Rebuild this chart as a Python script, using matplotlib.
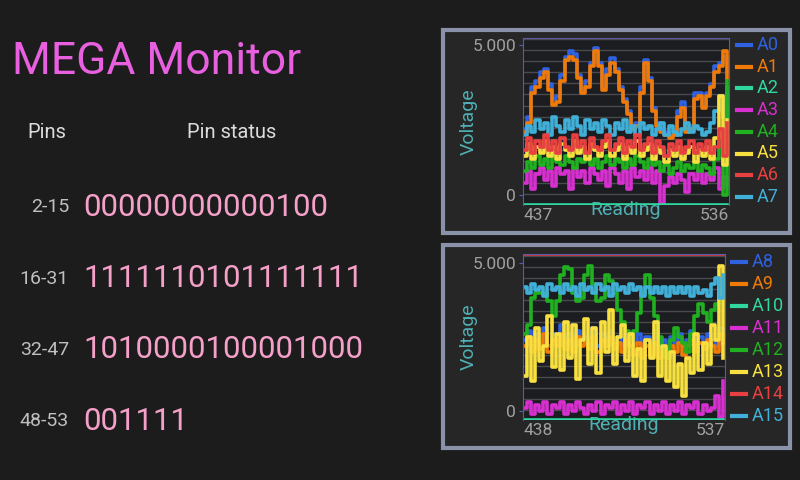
import numpy as np
import matplotlib
matplotlib.use("Agg")
import matplotlib.pyplot as plt
from matplotlib.patches import Rectangle

plt.rcParams['font.family'] = ['Roboto', 'DejaVu Sans']

title = "MEGA Monitor"
pin_ranges = ["2-15", "16-31", "32-47", "48-53"]
pin_status = ["00000000000100", "1111110101111111", "1010000100001000", "001111"]

top_names = ["A0", "A1", "A2", "A3", "A4", "A5", "A6", "A7"]
bot_names = ["A8", "A9", "A10", "A11", "A12", "A13", "A14", "A15"]
colors = ["#2f62e0", "#f07a08", "#30d8a0", "#d830d0", "#20b020", "#f8e040", "#e84040", "#40b0d8"]

top_x = list(range(437, 537, 2))
bot_x = list(range(438, 538, 2))

A0 = [2.2, 2.6, 3.6, 3.8, 4.1, 4.2, 3.7, 3.2, 3.3, 4.0, 4.6, 4.8, 4.7, 4.0, 3.5, 3.8, 4.4, 4.9, 4.4, 3.6,
      4.2, 4.55, 4.2, 3.6, 3.2, 2.8, 2.3, 2.4, 3.6, 4.5, 3.9, 2.9, 2.4, 2.2, 2.1, 2.0, 2.1, 2.8, 3.1, 2.2,
      2.3, 3.4, 3.4, 3.0, 3.4, 3.7, 4.3, 4.4, 4.6, 4.1]
A1 = [2.1, 2.4, 3.4, 3.6, 3.9, 4.1, 3.5, 3.0, 3.1, 3.8, 4.5, 4.6, 4.5, 3.9, 3.4, 3.6, 4.3, 4.8, 4.3, 3.5,
      4.0, 4.4, 4.1, 3.5, 3.1, 2.7, 2.2, 2.3, 3.4, 4.4, 3.8, 2.8, 2.3, 2.1, 2.0, 1.9, 2.0, 2.6, 2.9, 2.1,
      2.2, 3.2, 3.3, 2.9, 3.3, 3.6, 4.1, 4.3, 4.8, 3.9]
A2 = [-0.33] * 50
A3 = [0.4, 0.8, 0.2, 0.7, 0.9, 0.5, 0.8, 0.3, 0.9, 0.7, 0.8, 0.2, 0.9, 0.6, 0.8, 0.4, 0.9, 0.7, 0.5, 0.8,
      0.3, 0.9, 0.7, 0.4, 0.8, 0.2, 0.9, 0.6, 0.8, 0.5, 0.9, 0.4, 0.8, -0.3, 0.3, 0.6, 0.4, 0.7, 0.5, 0.1,
      0.7, 0.5, 0.8, 0.4, 0.7, 0.5, 0.9, 0.2, 0.6, 0.3]
A4 = [0.8, 1.1, 0.9, 1.3, 1.0, 1.2, 0.9, 1.3, 1.1, 1.0, 1.3, 1.1, 0.9, 1.2, 1.1, 1.3, 1.0, 1.2, 0.9, 1.1,
      1.3, 1.0, 1.2, 1.1, 0.9, 1.2, 1.0, 1.3, 1.1, 0.9, 1.2, 1.0, 1.1, 0.8, 1.0, 0.7, 0.9, 1.1, 0.8, 1.0,
      0.9, 1.1, 0.8, 1.0, 0.9, 0.7, 1.2, 2.0, 0.0, 3.8]
A5 = [1.3, 1.7, 1.2, 1.6, 1.4, 1.8, 1.3, 1.6, 1.2, 1.7, 1.5, 1.3, 1.8, 1.4, 1.6, 1.2, 1.7, 1.5, 1.3, 1.6,
      1.8, 1.3, 1.5, 1.7, 1.2, 1.6, 1.4, 1.8, 1.3, 1.5, 1.7, 1.2, 1.6, 1.4, 1.1, 1.5, 1.3, 1.6, 1.2, 1.4,
      1.6, 1.1, 1.5, 1.3, 1.6, 1.2, 1.9, 3.3, 1.0, 2.5]
A6 = [1.5, 1.9, 1.4, 1.8, 1.6, 2.0, 1.5, 1.8, 1.4, 1.9, 1.6, 1.5, 2.0, 1.6, 1.8, 1.4, 1.9, 1.6, 1.5, 1.8,
      2.0, 1.5, 1.7, 1.9, 1.4, 1.8, 1.6, 2.0, 1.5, 1.7, 1.9, 1.4, 1.8, 1.6, 1.3, 1.7, 1.5, 1.8, 1.4, 1.6,
      1.8, 1.4, 1.7, 1.5, 1.8, 1.4, 1.6, 2.2, 1.3, 2.4]
A7 = [2.0, 2.3, 2.1, 2.5, 2.2, 2.4, 2.0, 2.6, 2.3, 2.1, 2.5, 2.2, 2.6, 2.3, 2.0, 2.5, 2.2, 2.4, 2.1, 2.5,
      2.3, 2.0, 2.4, 2.2, 2.5, 2.1, 2.3, 2.0, 2.4, 2.2, 2.3, 2.0, 2.2, 2.4, 2.0, 2.3, 2.1, 2.0, 2.2, 2.4,
      2.1, 2.3, 2.2, 2.0, 2.1, 2.4, 2.8, 3.3, 2.6, 3.6]

A8 = [2.4, 2.7, 2.2, 2.6, 2.3, 2.8, 2.2, 2.6, 2.4, 2.9, 2.3, 2.6, 2.2, 2.7, 2.4, 2.5, 2.3, 2.8, 2.2, 2.6,
      2.4, 2.7, 2.3, 2.5, 2.2, 2.6, 2.4, 2.3, 2.6, 2.2, 2.5, 2.3, 2.7, 2.2, 2.4, 2.1, 2.5, 2.3, 2.6, 2.2,
      2.4, 2.7, 2.2, 2.5, 2.3, 2.6, 2.4, 2.2, 2.8, 2.5]
A9 = [2.2, 2.5, 2.0, 2.4, 2.1, 2.6, 2.0, 2.4, 2.2, 2.6, 2.1, 2.4, 2.0, 2.5, 2.2, 2.3, 2.1, 2.5, 2.0, 2.4,
      2.2, 2.5, 2.1, 2.3, 2.0, 2.4, 2.2, 1.9, 2.3, 1.8, 2.2, 1.9, 2.3, 1.8, 2.1, 1.8, 2.2, 2.0, 2.3, 1.9,
      2.2, 2.4, 2.0, 2.3, 2.1, 2.4, 2.2, 2.0, 2.6, 2.3]
A10 = [-0.3] * 50
A11 = [0.1, 0.3, -0.1, 0.2, 0.0, 0.3, -0.1, 0.2, 0.1, 0.3, -0.1, 0.2, 0.0, 0.3, 0.1, -0.1, 0.2, 0.0, 0.3, -0.1,
       0.2, 0.1, 0.3, -0.1, 0.2, 0.0, 0.3, -0.1, 0.2, 0.1, 0.3, -0.1, 0.2, 0.0, 0.3, -0.1, 0.2, 0.0, 0.3, -0.1,
       0.2, 0.1, 0.3, -0.1, 0.2, 0.0, 0.1, 0.5, -0.2, 1.0]
A12 = [2.6, 2.9, 3.8, 4.0, 4.0, 4.0, 3.7, 3.2, 3.7, 4.6, 4.85, 4.8, 4.0, 3.7, 3.8, 4.6, 4.9, 4.3, 3.7, 3.8,
       4.6, 4.4, 4.0, 3.4, 3.0, 2.7, 2.45, 2.7, 3.3, 4.0, 4.6, 3.8, 3.2, 2.5, 2.1, 1.8, 2.4, 2.8, 2.5, 2.3,
       2.0, 2.6, 3.2, 3.6, 3.3, 3.0, 3.4, 3.6, 4.0, 4.2]
A13 = [1.2, 2.5, 1.0, 2.8, 1.7, 2.2, 3.2, 1.5, 2.6, 1.4, 3.0, 1.8, 2.9, 1.1, 2.4, 3.1, 1.6, 2.8, 1.3, 3.0,
       2.0, 3.4, 1.6, 2.5, 2.9, 1.7, 2.6, 1.2, 2.1, 1.0, 2.4, 1.8, 3.0, 1.2, 2.2, 1.0, 2.0, 0.8, 1.6, 0.5,
       1.8, 1.3, 2.6, 1.4, 2.3, 1.6, 2.9, 2.4, 4.9, 1.8]
A14 = [5.3] * 50
A15 = [4.2, 4.0, 4.3, 4.1, 4.2, 3.9, 4.3, 4.1, 4.2, 4.0, 4.3, 4.1, 4.2, 3.9, 4.3, 4.1, 4.2, 4.0, 4.3, 4.1,
       4.2, 3.9, 4.3, 4.1, 4.2, 4.0, 4.3, 4.1, 4.2, 3.9, 4.2, 4.0, 4.2, 4.0, 4.2, 3.9, 4.2, 4.0, 4.2, 4.0,
       4.2, 3.9, 4.2, 4.0, 4.1, 3.9, 4.3, 4.5, 3.8, 4.6]

top_series = [A0, A1, A2, A3, A4, A5, A6, A7]
bot_series = [A8, A9, A10, A11, A12, A13, A14, A15]
top_draw_order = [0, 1, 7, 3, 4, 5, 6, 2]
bot_draw_order = [0, 1, 4, 5, 7, 3, 2, 6]

W, H = 800, 480
fig = plt.figure(figsize=(8, 4.8), dpi=100, facecolor="#1c1c1c")

def px(x, y):
    return x / W, 1 - y / H

# Left side text
fig.text(*px(12, 62), title, color="#e860e0", fontsize=32, va="center", ha="left")
fig.text(*px(27, 133), "Pins", color="#dcdcdc", fontsize=14.5, va="center")
fig.text(*px(187, 133), "Pin status", color="#dcdcdc", fontsize=14.5, va="center")
for i, (r, s) in enumerate(zip(pin_ranges, pin_status)):
    y = 207 + i * 71.5
    fig.text(*px(69, y), r, color="#c0c0c0", fontsize=14, va="center", ha="right")
    fig.text(*px(83, y), s, color="#f4a0c8", fontsize=22.5, va="center", ha="left")

def panel(ytop, ax_rect, xs, series, names, order, xlab, ylim, leg_y0, leg_dy, leg_x):
    fig.patches.append(Rectangle(px(443, ytop + 203), 347 / W, 203 / H, transform=fig.transFigure,
                                 facecolor="#262626", edgecolor="#8a92aa", linewidth=3, zorder=0))
    ax = fig.add_axes(ax_rect)
    ax.set_zorder(3)
    ax.set_facecolor("#1b1d21")
    ax.set_ylim(*ylim)
    ax.set_xlim(xs[0], xs[-1] + 1)
    for g in np.arange(ylim[0] + 0.35, ylim[1], 0.37):
        ax.axhline(g, color="#4a4a4e", lw=1, zorder=0)
    for k in order:
        ax.plot(xs, series[k], color=colors[k], lw=2.6, drawstyle="steps-post", zorder=2)
    for sp in ["left", "top", "right"]:
        ax.spines[sp].set_color("#5a5aa8")
    ax.spines["bottom"].set_visible(False)
    ax.set_yticks([0, 5])
    ax.set_yticklabels(["0", "5.000"], color="#a0a0a0", fontsize=12.5)
    ax.set_xticks([xs[0], xs[-1] + 1])
    ax.set_xticklabels(xlab, color="#a0a0a0", fontsize=12.5)
    ax.get_xticklabels()[0].set_ha("left")
    ax.get_xticklabels()[1].set_ha("right")
    ax.tick_params(length=0, pad=2)
    ax.tick_params(axis="y", length=3, color="#5a5aa8")
    ax.set_xlabel("Reading", color="#4fb0b4", fontsize=14, labelpad=-16)
    ax.set_ylabel("Voltage", color="#4fb0b4", fontsize=14, labelpad=-4)
    for i, n in enumerate(names):
        y = leg_y0 + i * leg_dy
        fig.lines.append(plt.Line2D([leg_x / W, (leg_x + 14) / W], [1 - y / H] * 2,
                                    transform=fig.transFigure, color=colors[i], lw=3, zorder=4))
        fig.text((leg_x + 20) / W, 1 - y / H, n, color=colors[i], fontsize=13, va="center", zorder=4)

panel(30, [523 / W, 1 - 205 / H, 206 / W, 167 / H], top_x, top_series, top_names, top_draw_order,
      ["437", "536"], (-0.33, 5.23), 45, 21.7, 737)
panel(245, [523 / W, 1 - 420 / H, 202 / W, 166 / H], bot_x, bot_series, bot_names, bot_draw_order,
      ["438", "537"], (-0.3, 5.3), 262, 22, 732)

fig.savefig("out.png", dpi=100, facecolor=fig.get_facecolor())
